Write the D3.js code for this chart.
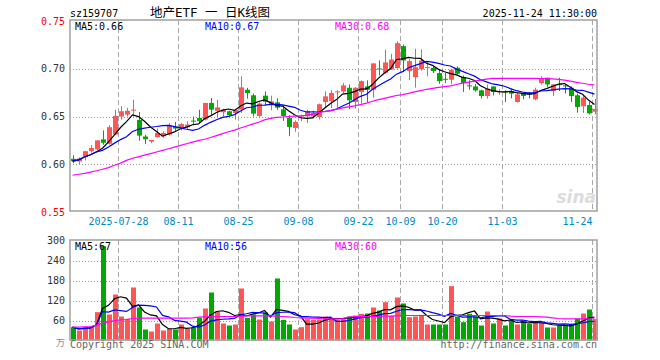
<!DOCTYPE html>
<html>
<head>
<meta charset="utf-8">
<script src="https://cdn.jsdelivr.net/npm/d3@7"></script>
<style>
body { margin: 0; background: #fff; }
svg { display: block; }
text { font-family: "DejaVu Sans Mono", monospace; font-size: 10px; }
</style>
</head>
<body>
<svg id="chart" width="660" height="360"></svg>
<script>
// trading days shown, 2025-07-16 .. 2025-11-24
const dates = [
    "2025-07-16","2025-07-17","2025-07-18","2025-07-21","2025-07-22","2025-07-23","2025-07-24","2025-07-25","2025-07-28","2025-07-29","2025-07-30","2025-07-31",
    "2025-08-01","2025-08-04","2025-08-05","2025-08-06","2025-08-07","2025-08-08","2025-08-11","2025-08-12","2025-08-13","2025-08-14","2025-08-15","2025-08-18","2025-08-19","2025-08-20","2025-08-21","2025-08-22","2025-08-25","2025-08-26","2025-08-27","2025-08-28","2025-08-29",
    "2025-09-01","2025-09-02","2025-09-03","2025-09-04","2025-09-05","2025-09-08","2025-09-09","2025-09-10","2025-09-11","2025-09-12","2025-09-15","2025-09-16","2025-09-17","2025-09-18","2025-09-19","2025-09-22","2025-09-23","2025-09-24","2025-09-25","2025-09-26","2025-09-29","2025-09-30",
    "2025-10-09","2025-10-10","2025-10-13","2025-10-14","2025-10-15","2025-10-16","2025-10-17","2025-10-20","2025-10-21","2025-10-22","2025-10-23","2025-10-24","2025-10-27","2025-10-28","2025-10-29","2025-10-30","2025-10-31",
    "2025-11-03","2025-11-04","2025-11-05","2025-11-06","2025-11-07","2025-11-10","2025-11-11","2025-11-12","2025-11-13","2025-11-14","2025-11-17","2025-11-18","2025-11-19","2025-11-20","2025-11-21","2025-11-24"
];
const open = [
    .6057,.6030,.6078,.6137,.6155,.6260,.6214,.6311,.6500,.6520,.6565,.6464,.6290,.6238,.6283,.6293,.6311,.6394,.6380,.6387,
    .6457,.6485,.6468,.6642,.6560,.6545,.6555,.6537,.6572,.6780,.6722,.6505,.6718,.6617,.6648,.6575,.6488,.6380,.6495,.6502,
    .6500,.6495,.6652,.6662,.6757,.6763,.6801,.6652,.6756,.6815,.6780,.7003,.6958,.6993,.7007,.7237,.6976,.6913,.6993,.7010,
    .7010,.6955,.6895,.6885,.7010,.6913,.6826,.6815,.6774,.6714,.6815,.6753,.6760,.6763,.6652,.6746,.6746,.6680,.6850,.6906,
    .6767,.6838,.6826,.6801,.6722,.6607,.6620,.6551
];
const high = [
    .6095,.6070,.6140,.6200,.6250,.6355,.6410,.6570,.6607,.6590,.6676,.6548,.6310,.6255,.6374,.6345,.6430,.6443,.6433,.6450,
    .6500,.6570,.6642,.6694,.6676,.6580,.6562,.6580,.6920,.6800,.6740,.6650,.6763,.6718,.6690,.6617,.6513,.6460,.6520,.6570,
    .6560,.6635,.6763,.6775,.6774,.6850,.6836,.6808,.6878,.6878,.7056,.7087,.7200,.7157,.7289,.7254,.7100,.7209,.7202,.7070,
    .7025,.6990,.6955,.7000,.7025,.6930,.6880,.6840,.6780,.6836,.6815,.6785,.6775,.6790,.6746,.6757,.6757,.6801,.6923,.6906,
    .6836,.6906,.6840,.6815,.6740,.6720,.6655,.6683
];
const low = [
    .6010,.6000,.6040,.6120,.6145,.6205,.6206,.6310,.6468,.6500,.6500,.6248,.6213,.6220,.6280,.6276,.6300,.6339,.6353,.6363,
    .6408,.6433,.6458,.6520,.6485,.6500,.6503,.6468,.6537,.6687,.6500,.6495,.6617,.6565,.6570,.6454,.6294,.6340,.6450,.6433,
    .6478,.6467,.6593,.6590,.6593,.6746,.6575,.6582,.6635,.6645,.6697,.6930,.6948,.6993,.7000,.6965,.6880,.6802,.6980,.6920,
    .6955,.6843,.6850,.6840,.6940,.6757,.6780,.6760,.6690,.6687,.6720,.6725,.6652,.6690,.6645,.6680,.6690,.6670,.6835,.6810,
    .6715,.6767,.6740,.6652,.6540,.6537,.6522,.6522
];
const close = [
    .6033,.6060,.6137,.6170,.6250,.6225,.6388,.6506,.6555,.6560,.6572,.6300,.6262,.6255,.6328,.6328,.6408,.6374,.6420,.6415,
    .6453,.6450,.6642,.6572,.6596,.6570,.6513,.6570,.6805,.6746,.6530,.6635,.6655,.6659,.6593,.6506,.6391,.6443,.6500,.6558,
    .6537,.6628,.6711,.6746,.6763,.6826,.6669,.6801,.6871,.6780,.7056,.7000,.7066,.7097,.7268,.7087,.7080,.7017,.7087,.7017,
    .6976,.6871,.6892,.6990,.6948,.6850,.6822,.6774,.6714,.6791,.6756,.6767,.6757,.6739,.6732,.6715,.6728,.6781,.6902,.6836,
    .6836,.6836,.6815,.6714,.6600,.6697,.6533,.6579
];
// volume, in 万
const volume = [
    40,30,40,42,85,283,78,138,72,65,159,99,33,27,51,30,35,33,48,35,
    40,68,96,144,87,51,45,48,156,68,78,63,84,57,186,62,48,33,40,64,
    62,63,72,68,62,64,72,75,80,81,99,90,115,74,129,111,70,72,77,48,
    48,48,48,163,72,55,80,72,45,87,51,66,45,60,48,60,50,54,54,39,
    39,45,48,48,66,81,93,64
];
// 30-day averages as drawn (their window starts before the first day shown)
const ma30Price = [
    .5885,.5895,.5905,.5918,.5932,.5948,.5965,.5990,.6012,.6040,.6063,.6078,.6095,.6112,.6128,.6145,.6162,.6180,.6198,.6215,
    .6232,.6248,.6262,.6280,.6300,.6320,.6340,.6358,.6380,.6400,.6420,.6440,.6465,.6480,.6490,.6495,.6500,.6503,.6507,.6512,
    .6525,.6540,.6552,.6562,.6575,.6590,.6600,.6611,.6625,.6640,.6660,.6676,.6690,.6705,.6720,.6730,.6742,.6758,.6771,.6785,
    .6795,.6805,.6812,.6820,.6835,.6850,.6860,.6870,.6880,.6892,.6900,.6900,.6900,.6900,.6900,.6900,.6900,.6900,.6898,.6896,
    .6893,.6888,.6880,.6870,.6858,.6848,.6838,.6830
];
const ma30Volume = [
    40,40,41,42,46,52,56,60,62,63,66,67,67,67,67,67,67,67,67,67,
    68,70,71,72,72,72,72,72,73,74,74,74,74,74,73,72,71,69,68,67,
    67,66,65,65,65,66,70,72,72,72,72,72,73,73,74,75,75,75,75,75,
    75,75,75,75,75,75,75,75,75,75,75,75,75,73,72,72,72,72,71,70,
    68,66,65,65,65,65,65,65
];
const tickDates = ["2025-07-28","2025-08-11","2025-08-25","2025-09-08","2025-09-22","2025-10-09","2025-10-20","2025-11-03","2025-11-24"];
const tickLabels = ["2025-07-28","08-11","08-25","09-08","09-22","10-09","10-20","11-03","11-24"];
const priceTicks = [0.75, 0.70, 0.65, 0.60, 0.55];
const volumeTicks = [300, 240, 180, 120, 60];
const priceMaText = ["0.66", "0.67", "0.68"];
const volumeMaText = ["67", "56", "60"];

const RED = "#ff5555", GREEN = "#00a800";
const MA_COLORS = ["#000000", "#0000ff", "#ff00ff"];
const GRID = "#a8a8a8";

const svg = d3.select("#chart");
const left = 70, right = 597;
const pTop = 20, pBottom = 211;
const vTop = 240, vBottom = 340;

const x = d3.scaleBand().domain(dates).range([69.5, 597.5]).paddingInner(1 / 6).paddingOuter(1 / 12);
const cx = d => x(d) + x.bandwidth() / 2;
const y = d3.scaleLinear().domain([0.55, 0.75]).range([212, 21]);
const yv = d3.scaleLinear().domain([0, 300]).range([340.5, 240.5]);

function movingAvg(arr, n) {
    return arr.map((v, i) => {
        let s = arr.slice(Math.max(0, i - n + 1), i + 1);
        return d3.mean(s);
    });
}

// grid
const grid = svg.append("g");
tickDates.forEach(d => {
    let gx = Math.round(x(d)) + 0.5;
    [[pTop, pBottom], [vTop, vBottom]].forEach(([a, b]) => {
        grid.append("line").attr("x1", gx).attr("x2", gx).attr("y1", a).attr("y2", b)
            .attr("stroke", GRID).attr("stroke-dasharray", "5,3");
    });
});
priceTicks.slice(1, -1).forEach(t => {
    let gy = Math.round(y(t)) + 0.5;
    grid.append("line").attr("x1", left).attr("x2", right).attr("y1", gy).attr("y2", gy)
        .attr("stroke", "#999").attr("stroke-dasharray", "1,2");
});
volumeTicks.slice(1).forEach(t => {
    let gy = Math.round(yv(t)) + 0.5;
    grid.append("line").attr("x1", left).attr("x2", right).attr("y1", gy).attr("y2", gy)
        .attr("stroke", "#999").attr("stroke-dasharray", "1,2");
});

// watermark
svg.append("text").attr("x", 596).attr("y", 203).attr("text-anchor", "end")
    .style("font-family", "DejaVu Sans").style("font-size", "17px").style("font-style", "italic").style("font-weight", "bold")
    .attr("fill", "#dcdcdc").text("sina");

// candles
const candles = svg.append("g");
dates.forEach((d, i) => {
    let up = close[i] >= open[i];
    let col = up ? RED : GREEN;
    let xc = Math.round(cx(d)) + 0.5;
    candles.append("line").attr("x1", xc).attr("x2", xc)
        .attr("y1", y(high[i])).attr("y2", y(low[i])).attr("stroke", col);
    let top = y(Math.max(open[i], close[i]));
    let h = Math.max(1, Math.abs(y(open[i]) - y(close[i])));
    candles.append("rect").attr("x", xc - 2.5).attr("width", 5)
        .attr("y", top).attr("height", h).attr("fill", col);
    // volume bar
    candles.append("rect").attr("x", xc - 2.5).attr("width", 5)
        .attr("y", yv(volume[i])).attr("height", yv(0) - yv(volume[i])).attr("fill", col);
});

// moving averages
const priceMAs = [movingAvg(close, 5), movingAvg(close, 10), ma30Price];
const volumeMAs = [movingAvg(volume, 5), movingAvg(volume, 10), ma30Volume];
const priceLine = d3.line().x((v, i) => cx(dates[i])).y(v => y(v));
const volLine = d3.line().x((v, i) => cx(dates[i])).y(v => yv(v));
priceMAs.forEach((s, k) => {
    svg.append("path").attr("d", priceLine(s)).attr("fill", "none")
        .attr("stroke", MA_COLORS[k]).attr("stroke-width", 1.2);
});
volumeMAs.forEach((s, k) => {
    svg.append("path").attr("d", volLine(s)).attr("fill", "none")
        .attr("stroke", MA_COLORS[k]).attr("stroke-width", 1.2);
});

// frames
[[pTop, pBottom], [vTop, vBottom]].forEach(([a, b]) => {
    svg.append("rect").attr("x", left).attr("y", a).attr("width", right - left).attr("height", b - a)
        .attr("fill", "none").attr("stroke", "#a6a6a6").attr("stroke-width", 1.6);
});

// y labels
priceTicks.forEach((t, i) => {
    svg.append("text").attr("x", 65).attr("y", y(t)).attr("dy", "0.35em").attr("text-anchor", "end")
        .attr("fill", (i === 0 || i === priceTicks.length - 1) ? "#ff0000" : "#333")
        .text(d3.format(".2f")(t));
});
volumeTicks.forEach(t => {
    svg.append("text").attr("x", 65).attr("y", yv(t)).attr("dy", "0.35em").attr("text-anchor", "end")
        .attr("fill", "#333").text(t);
});
svg.append("text").attr("x", 65).attr("y", 346).attr("text-anchor", "end").attr("fill", "#888")
    .style("font-family", "Noto Sans CJK SC").style("font-size", "9px").text("万");

// x labels
tickDates.forEach((d, i) => {
    let last = i === tickDates.length - 1;
    svg.append("text").attr("x", last ? x(d) + 0.5 : x(d) + 0.5).attr("y", 225)
        .attr("text-anchor", last ? "end" : "middle").attr("fill", "#0088cc").text(tickLabels[i]);
});

// legends
const maNames = ["MA5", "MA10", "MA30"];
const legendX = [75, 205, 335];
maNames.forEach((n, k) => {
    svg.append("text").attr("x", legendX[k]).attr("y", 29.5).attr("fill", MA_COLORS[k]).text(n + ":" + priceMaText[k]);
    svg.append("text").attr("x", legendX[k]).attr("y", 249.5).attr("fill", MA_COLORS[k]).text(n + ":" + volumeMaText[k]);
});

// header / footer
svg.append("text").attr("x", 70).attr("y", 16.5).attr("fill", "#000").text("sz159707");
svg.append("text").attr("x", 210).attr("y", 17).attr("text-anchor", "middle").attr("fill", "#000")
    .style("font-family", "'DejaVu Sans Mono', 'Noto Sans CJK SC'").style("font-size", "12.5px").text("地产ETF 一 日K线图");
svg.append("text").attr("x", 597).attr("y", 16.5).attr("text-anchor", "end").attr("fill", "#000").text("2025-11-24 11:30:00");
svg.append("text").attr("x", 70).attr("y", 348).attr("fill", "#666").text("Copyright 2025 SINA.COM");
svg.append("text").attr("x", 597).attr("y", 348).attr("text-anchor", "end").attr("fill", "#666").text("http://finance.sina.com.cn");
</script>
</body>
</html>
